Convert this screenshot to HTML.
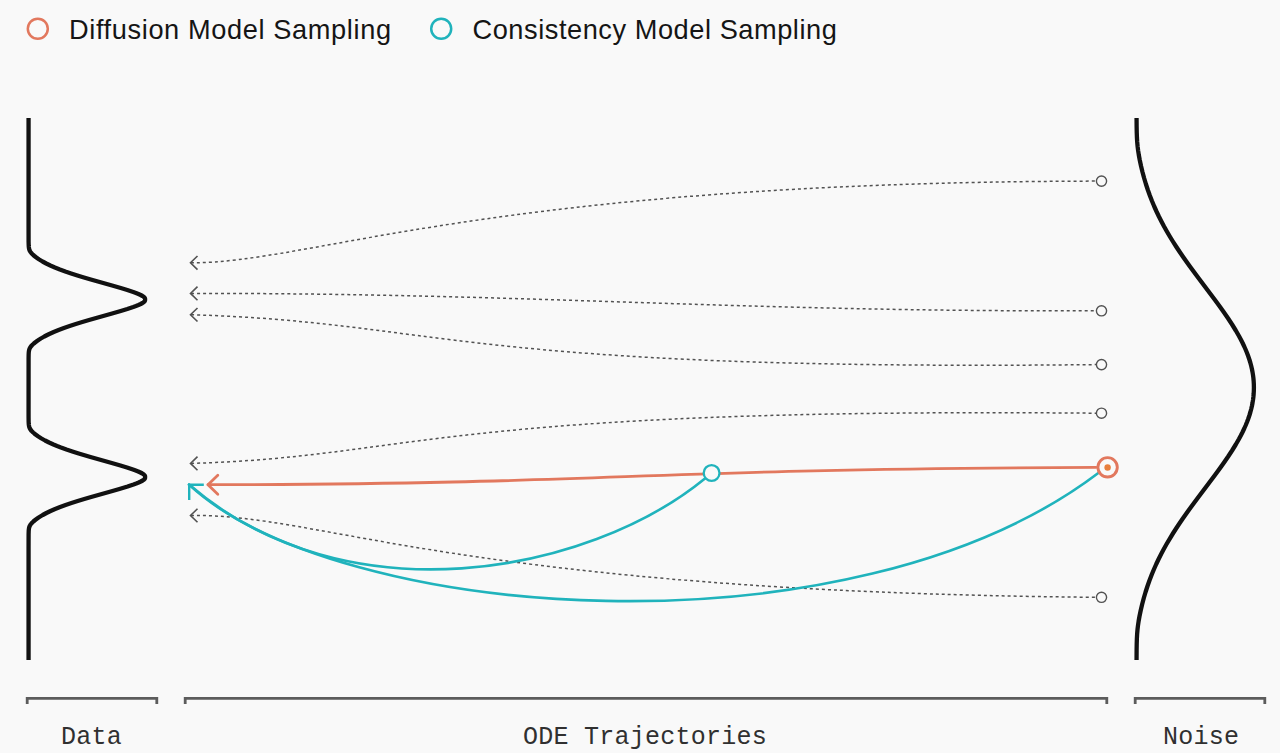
<!DOCTYPE html>
<html><head><meta charset="utf-8"><style>
html,body{margin:0;padding:0;background:#f9f9f9;width:1280px;height:753px;overflow:hidden;position:relative}
.t{position:absolute;white-space:nowrap;color:#151515;font-family:"Liberation Sans",sans-serif}
.m{position:absolute;white-space:nowrap;color:#303030;font-family:"Liberation Mono",monospace}
</style></head><body>
<svg width="1280" height="753" viewBox="0 0 1280 753" style="position:absolute;left:0;top:0">
<path d="M28.56 118 L28.56 228 L28.6 242 L28.7 245.5 L28.81 247 L28.94 248 L29.14 249 L29.46 250 L29.91 251 L30.19 251.5 L30.52 252 L31.3 253 L32.22 254 L33.27 255 L34.43 256 L35.69 257 L37.76 258.5 L39.25 259.5 L42.54 261.5 L46.23 263.5 L50.34 265.5 L54.89 267.5 L59.88 269.5 L65.31 271.5 L71.15 273.5 L77.38 275.5 L83.95 277.5 L90.8 279.5 L112.1 285.5 L120.76 288 L127.28 290 L133.25 292 L135.96 293 L138.44 294 L140.64 295 L142.51 296 L143.28 296.5 L143.94 297 L144.46 297.5 L144.82 298 L145.02 298.5 L145.09 299 L145.1 299.5 L145.09 300 L145.02 300.5 L144.82 301 L144.46 301.5 L143.94 302 L143.28 302.5 L142.51 303 L140.64 304 L138.44 305 L135.96 306 L133.25 307 L127.28 309 L120.76 311 L112.1 313.5 L89.07 320 L82.28 322 L75.79 324 L69.65 326 L63.91 328 L58.59 330 L53.71 332 L49.27 334 L47.21 335 L44.33 336.5 L40.84 338.5 L39.25 339.5 L37.05 341 L35.05 342.5 L33.84 343.5 L32.73 344.5 L31.74 345.5 L30.89 346.5 L30.19 347.5 L29.66 348.5 L29.28 349.5 L28.94 351 L28.76 352.5 L28.65 354.5 L28.59 358 L28.56 409.5 L28.58 417.5 L28.63 421.5 L28.72 423.5 L28.85 425 L29.01 426 L29.25 427 L29.62 428 L30.13 429 L30.81 430 L31.65 431 L33.16 432.5 L34.31 433.5 L35.56 434.5 L38.34 436.5 L41.51 438.5 L45.07 440.5 L49.06 442.5 L53.48 444.5 L57.08 446 L60.93 447.5 L66.44 449.5 L72.37 451.5 L78.67 453.5 L90.45 457 L111.75 463 L120.42 465.5 L126.97 467.5 L132.97 469.5 L135.7 470.5 L138.2 471.5 L140.43 472.5 L142.34 473.5 L143.14 474 L143.82 474.5 L144.37 475 L144.76 475.5 L144.99 476 L145.09 476.5 L145.1 477 L145.04 478 L144.87 478.5 L144.54 479 L144.06 479.5 L143.43 480 L142.67 480.5 L140.84 481.5 L138.67 482.5 L136.22 483.5 L133.53 484.5 L127.6 486.5 L119.4 489 L112.46 491 L91.15 497 L84.29 499 L77.7 501 L71.45 503 L65.59 505 L60.14 507 L55.13 509 L50.56 511 L46.42 513 L42.71 515 L39.41 517 L37.9 518 L35.82 519.5 L34.55 520.5 L33.38 521.5 L32.32 522.5 L31.38 523.5 L30.59 524.5 L30.26 525 L29.96 525.5 L29.49 526.5 L29.17 527.5 L28.96 528.5 L28.82 529.5 L28.7 531 L28.6 534.5 L28.56 548.5 L28.56 660" fill="none" stroke="#111" stroke-width="4.3" stroke-linejoin="round"/>
<path d="M1136.56 118 L1136.63 126.5 L1136.75 132.5 L1136.93 137.5 L1137.2 142 L1137.62 146.5 L1138.11 150.5 L1138.82 155 L1139.74 160 L1141.03 166 L1142.48 172 L1144.1 178 L1145.89 184 L1147.86 190 L1149.83 195.5 L1151.97 201 L1154.27 206.5 L1156.51 211.5 L1158.9 216.5 L1161.43 221.5 L1164.09 226.5 L1166.9 231.5 L1169.84 236.5 L1172.91 241.5 L1176.43 247 L1179.42 251.5 L1182.83 256.5 L1186.35 261.5 L1189.94 266.5 L1197.33 276.5 L1215 300 L1219.77 306.5 L1223.69 312 L1228.17 318.5 L1232.09 324.5 L1235.79 330.5 L1238.95 336 L1240.83 339.5 L1242.6 343 L1244.26 346.5 L1245.59 349.5 L1247.03 353 L1248.16 356 L1249.36 359.5 L1250.28 362.5 L1251.22 366 L1251.92 369 L1252.51 372 L1253 375 L1253.39 378 L1253.66 381 L1253.83 384 L1253.9 387.5 L1253.83 391 L1253.66 394 L1253.39 397 L1253 400 L1252.51 403 L1251.92 406 L1251.22 409 L1250.28 412.5 L1249.36 415.5 L1248.16 419 L1247.03 422 L1245.59 425.5 L1244.26 428.5 L1242.6 432 L1240.83 435.5 L1238.95 439 L1235.79 444.5 L1232.09 450.5 L1228.17 456.5 L1223.69 463 L1219.77 468.5 L1215 475 L1197.33 498.5 L1189.94 508.5 L1186.35 513.5 L1182.83 518.5 L1179.42 523.5 L1176.43 528 L1172.91 533.5 L1169.84 538.5 L1166.61 544 L1163.82 549 L1161.17 554 L1158.65 559 L1156.28 564 L1154.06 569 L1151.77 574.5 L1149.46 580.5 L1147.52 586 L1145.58 592 L1143.81 598 L1142.22 604 L1140.69 610.5 L1139.45 616.5 L1138.65 621 L1137.98 625.5 L1137.51 629.5 L1137.13 634 L1136.88 638.5 L1136.71 644 L1136.61 650.5 L1136.55 660" fill="none" stroke="#111" stroke-width="4.3" stroke-linejoin="round"/>
<path d="M191 262.8 C311.32 263.32 487.47 182.3 1096 181.1" fill="none" stroke="#525252" stroke-width="1.5" stroke-dasharray="3 3"/>
<path d="M191 293.4 C530.64 293.1 734.77 311.9 1096 310.8" fill="none" stroke="#525252" stroke-width="1.5" stroke-dasharray="3 3"/>
<path d="M191 314.75 C440.69 322.15 454.13 371.42 1096 364.6" fill="none" stroke="#525252" stroke-width="1.5" stroke-dasharray="3 3"/>
<path d="M191 463.4 C414.11 456.98 434.96 407.15 1096 413.2" fill="none" stroke="#525252" stroke-width="1.5" stroke-dasharray="3 3"/>
<path d="M191 515.5 C321.93 513.36 459.07 591.43 1096 597.3" fill="none" stroke="#525252" stroke-width="1.5" stroke-dasharray="3 3"/>
<path d="M197.5 256 L190.5 262.8 L197.5 269.6" fill="none" stroke="#525252" stroke-width="1.6"/>
<path d="M197.5 286.6 L190.5 293.4 L197.5 300.2" fill="none" stroke="#525252" stroke-width="1.6"/>
<path d="M197.5 307.95 L190.5 314.75 L197.5 321.55" fill="none" stroke="#525252" stroke-width="1.6"/>
<path d="M197.5 456.6 L190.5 463.4 L197.5 470.2" fill="none" stroke="#525252" stroke-width="1.6"/>
<path d="M197.5 508.7 L190.5 515.5 L197.5 522.3" fill="none" stroke="#525252" stroke-width="1.6"/>
<circle cx="1101.5" cy="181.1" r="5.1" fill="#f9f9f9" stroke="#525252" stroke-width="1.4"/>
<circle cx="1101.5" cy="310.8" r="5.1" fill="#f9f9f9" stroke="#525252" stroke-width="1.4"/>
<circle cx="1101.5" cy="364.6" r="5.1" fill="#f9f9f9" stroke="#525252" stroke-width="1.4"/>
<circle cx="1101.5" cy="413.2" r="5.1" fill="#f9f9f9" stroke="#525252" stroke-width="1.4"/>
<circle cx="1101.5" cy="597.3" r="5.1" fill="#f9f9f9" stroke="#525252" stroke-width="1.4"/>
<path d="M1099 472.5 C849.86 662.02 336.28 621.39 189 484.6" fill="none" stroke="#20b3bc" stroke-width="2.6" stroke-linecap="round"/>
<path d="M705 478.5 C587.29 574.76 345.79 619.75 189 484.6" fill="none" stroke="#20b3bc" stroke-width="2.6" stroke-linecap="round"/>
<path d="M203.8 484.8 L189.2 484.8 L189.2 500" fill="none" stroke="#20b3bc" stroke-width="2.4" stroke-linecap="butt" stroke-linejoin="miter"/>
<path d="M208 484.7 C624.46 483.98 624.8 469.03 1096 467.4" fill="none" stroke="#e2785e" stroke-width="2.8" stroke-linecap="round"/>
<path d="M217.8 475.2 L208 484.7 L217.8 494.2" fill="none" stroke="#e2785e" stroke-width="2.8" stroke-linecap="round" stroke-linejoin="round"/>
<circle cx="711.6" cy="473" r="7.9" fill="#f9f9f9" stroke="#20b3bc" stroke-width="2.3"/>
<circle cx="1107.6" cy="467.3" r="9.7" fill="#f9f9f9" stroke="#e2785e" stroke-width="2.9"/><circle cx="1107.6" cy="467.5" r="3.2" fill="#e8803e"/>
<path d="M27.2 704 L27.2 698.4 L156.8 698.4 L156.8 704" fill="none" stroke="#5c5c5c" stroke-width="2.8" stroke-linejoin="miter" stroke-linecap="butt"/>
<path d="M185.2 704 L185.2 698.4 L1106.8 698.4 L1106.8 704" fill="none" stroke="#5c5c5c" stroke-width="2.8" stroke-linejoin="miter" stroke-linecap="butt"/>
<path d="M1135.2 704 L1135.2 698.4 L1264.8 698.4 L1264.8 704" fill="none" stroke="#5c5c5c" stroke-width="2.8" stroke-linejoin="miter" stroke-linecap="butt"/>
<circle cx="37.8" cy="28.8" r="10" fill="none" stroke="#e2785e" stroke-width="2.5"/>
<circle cx="441.2" cy="28.8" r="10" fill="none" stroke="#20b3bc" stroke-width="2.5"/>
</svg>
<div class="t" id="l1" style="left:69px;top:12.7px;font-size:27.2px;line-height:34px;letter-spacing:0.62px">Diffusion Model Sampling</div>
<div class="t" id="l2" style="left:472.5px;top:12.7px;font-size:27.2px;line-height:34px;letter-spacing:0.55px">Consistency Model Sampling</div>
<div class="m" id="d1" style="left:61px;top:724px;font-size:25px;line-height:28px;letter-spacing:0.25px">Data</div>
<div class="m" id="d2" style="left:523px;top:724px;font-size:25px;line-height:28px;letter-spacing:0.25px">ODE Trajectories</div>
<div class="m" id="d3" style="left:1163px;top:724px;font-size:25px;line-height:28px;letter-spacing:0.25px">Noise</div>
</body></html>
